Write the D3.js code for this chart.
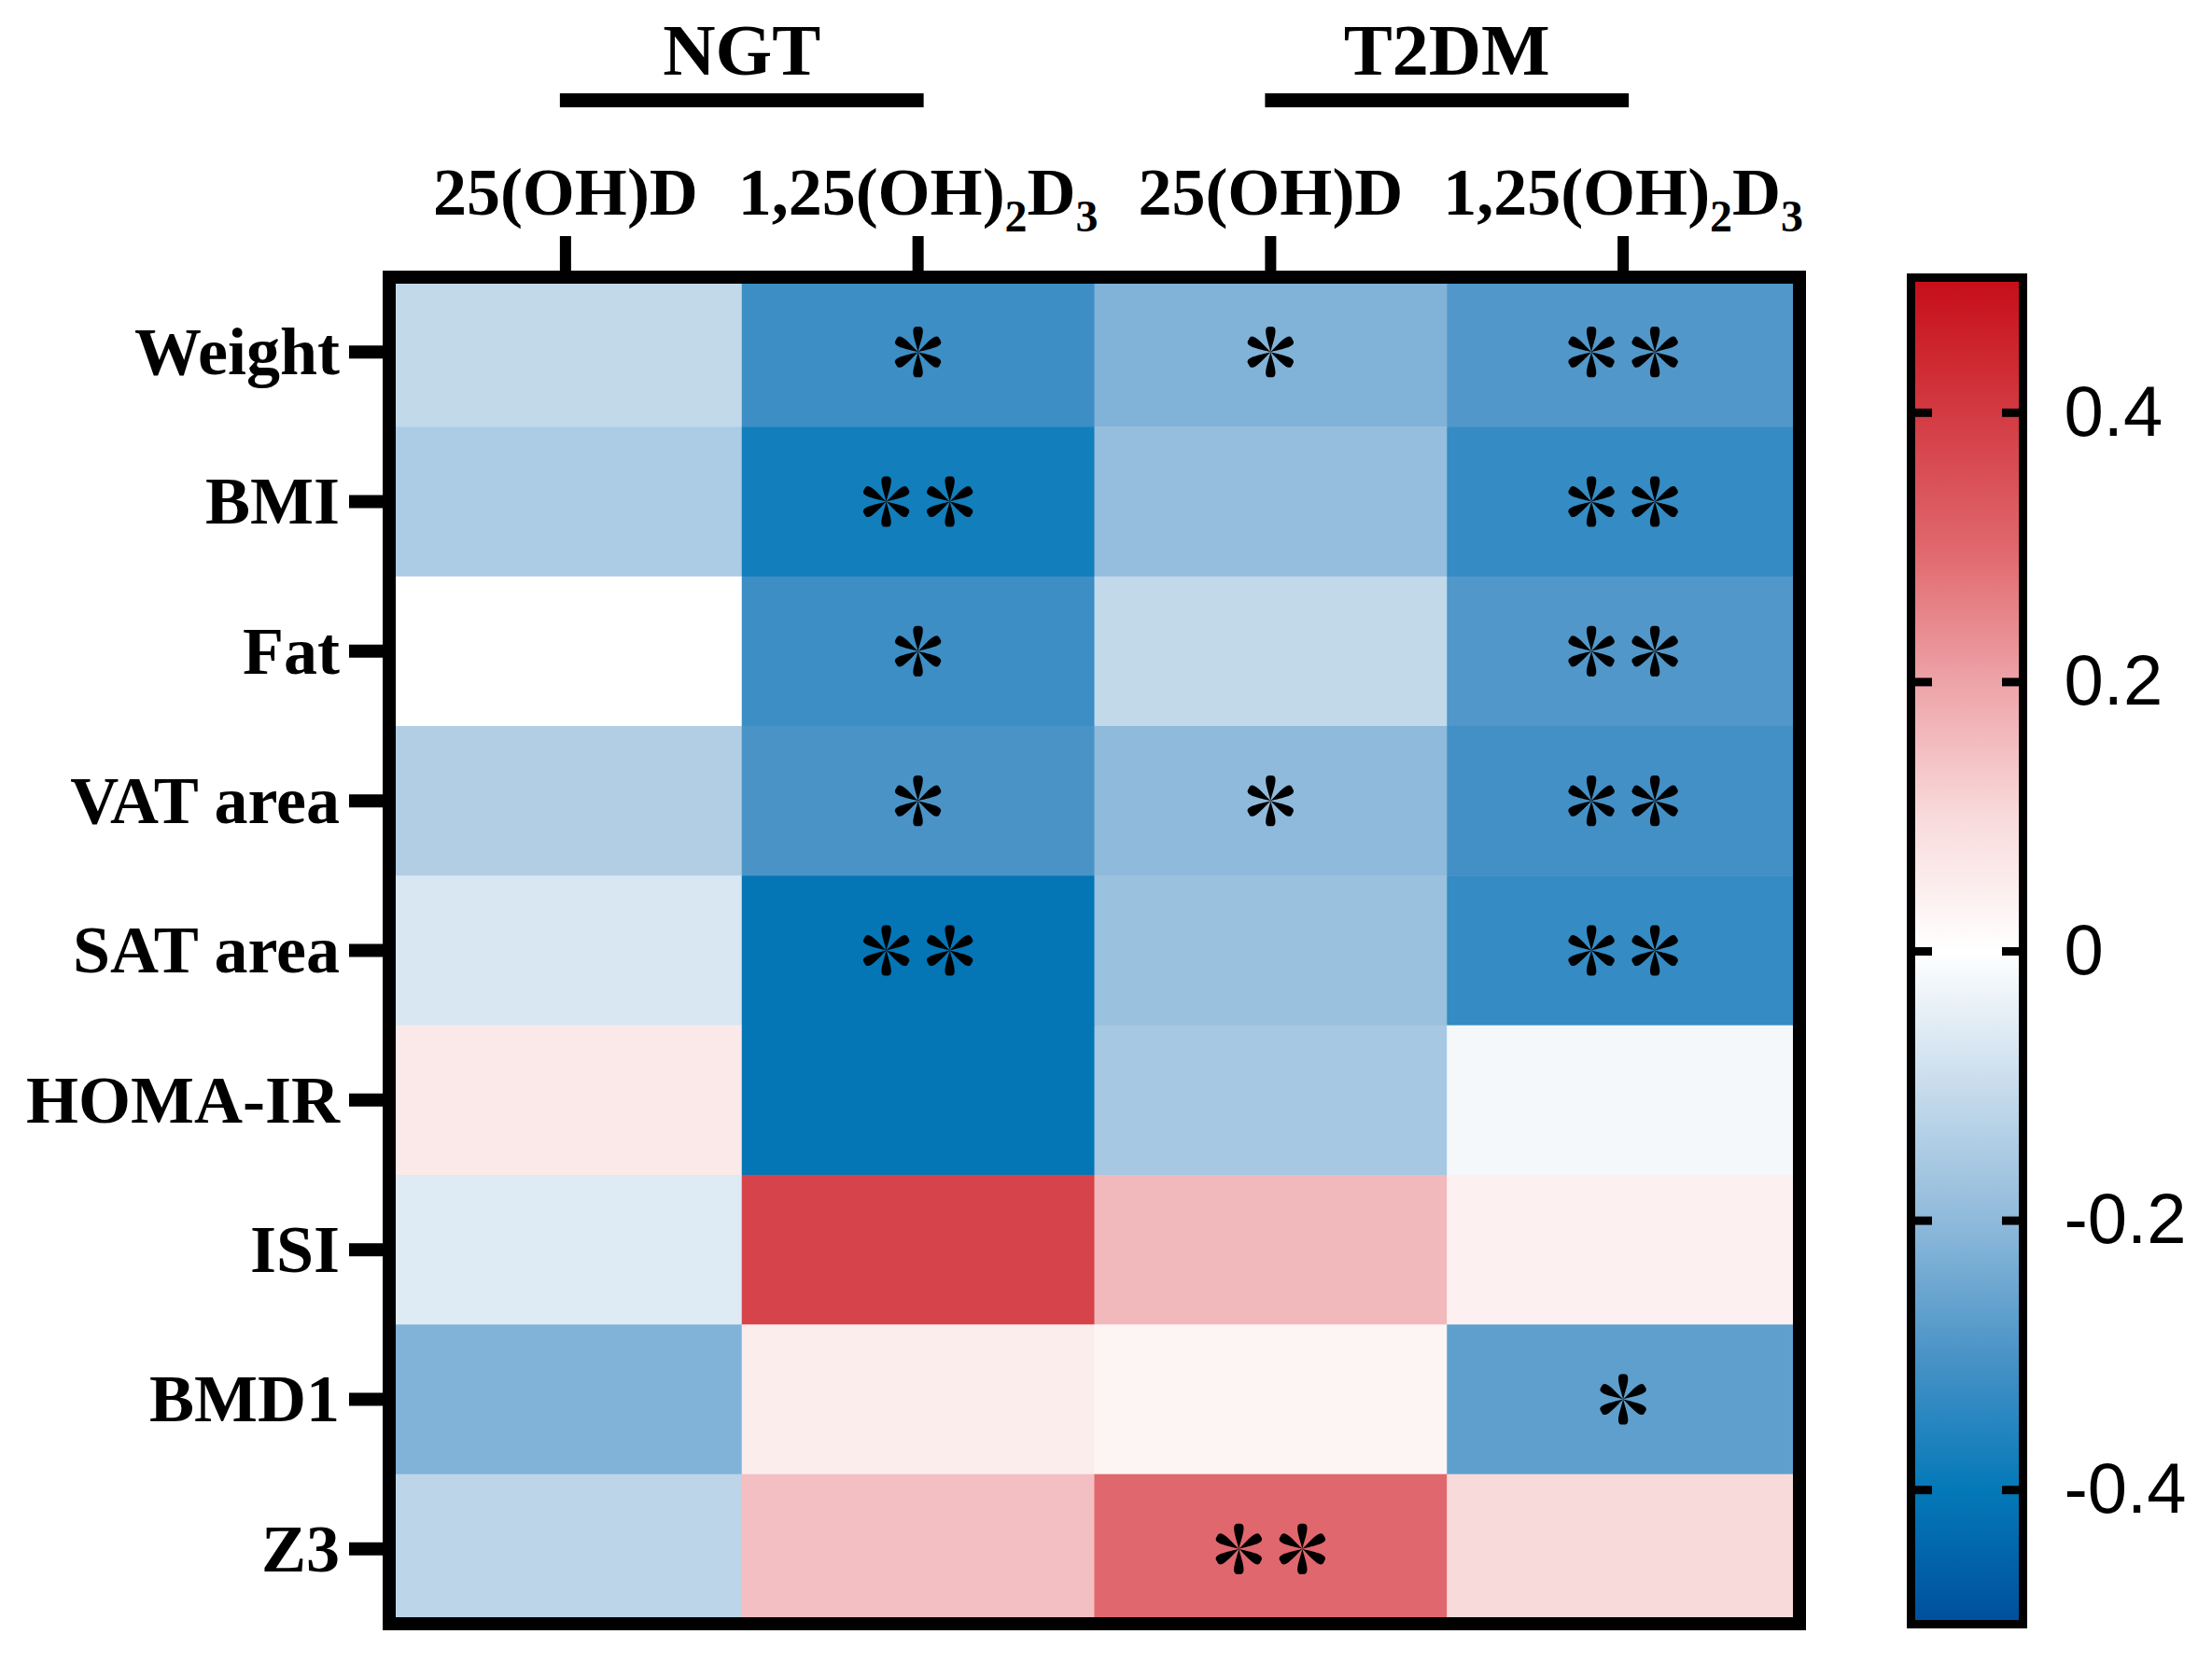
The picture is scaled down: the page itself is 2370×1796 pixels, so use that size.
<!DOCTYPE html>
<html>
<head>
<meta charset="utf-8">
<script src="https://cdn.jsdelivr.net/npm/d3@7"></script>
<style>
  body { margin: 0; background: #fff; }
  .serif { font-family: "Liberation Serif", "Times New Roman", serif; font-weight: bold; }
  .sans { font-family: "Liberation Sans", Arial, sans-serif; }
</style>
</head>
<body>
<svg width="2370" height="1796"></svg>
<script>
// rows / columns of the heatmap
var rows = ["Weight", "BMI", "Fat", "VAT area", "SAT area", "HOMA-IR", "ISI", "BMD1", "Z3"];
var columns = ["NGT 25(OH)D", "NGT 1,25(OH)2D3", "T2DM 25(OH)D", "T2DM 1,25(OH)2D3"];
var groups = ["NGT", "T2DM"];
var groupCols = [[0, 1], [2, 3]];

// correlation coefficient per row (4 columns each)
var weight  = [-0.11, -0.32, -0.22, -0.29];
var bmi     = [-0.15, -0.38, -0.19, -0.33];
var fat     = [ 0.00, -0.32, -0.11, -0.29];
var vatArea = [-0.14, -0.30, -0.20, -0.31];
var satArea = [-0.07, -0.41, -0.18, -0.33];
var homaIr  = [ 0.06, -0.41, -0.16, -0.02];
var isi     = [-0.06,  0.38,  0.16,  0.04];
var bmd1    = [-0.22,  0.05,  0.03, -0.27];
var z3      = [-0.12,  0.15,  0.30,  0.10];
var values = [weight, bmi, fat, vatArea, satArea, homaIr, isi, bmd1, z3];

// significance stars
var stars = [
  ["", "*", "*", "**"],
  ["", "**", "", "**"],
  ["", "*", "", "**"],
  ["", "*", "*", "**"],
  ["", "**", "", "**"],
  ["", "", "", ""],
  ["", "", "", ""],
  ["", "", "", "*"],
  ["", "", "**", ""]
];

// colour bar
var colorStops = [-0.5, -0.4, -0.3, -0.2, -0.1, 0, 0.1, 0.2, 0.3, 0.4, 0.5];
var stopColors = ["#004f9c", "#0479b8", "#4a93c7", "#8fbadb", "#c8dcec", "#ffffff",
                  "#f9dadb", "#eda3a8", "#e0676d", "#d33a42", "#c60d18"];
var cbTicks = [-0.4, -0.2, 0, 0.2, 0.4];

var svg = d3.select("svg");

var color = d3.scaleLinear().domain(colorStops).range(stopColors).interpolate(d3.interpolateRgb);

var x = d3.scaleBand().domain(columns).range([417, 1928]);
var y = d3.scaleBand().domain(rows).range([297, 1740]);

// cells
var cells = [];
values.forEach(function(r, i) {
  r.forEach(function(v, j) {
    cells.push({row: rows[i], col: columns[j], v: v, s: stars[i][j]});
  });
});

svg.append("g").selectAll("rect")
  .data(cells)
  .enter().append("rect")
  .attr("x", function(d) { return x(d.col); })
  .attr("y", function(d) { return y(d.row); })
  .attr("width", x.bandwidth() + 0.5)
  .attr("height", y.bandwidth() + 0.5)
  .attr("fill", function(d) { return color(d.v); });

// asterisk drawn as 6 teardrop petals
var asterisk = {
  draw: function(ctx, size) {
    var R = 27, w = 10;
    for (var k = 0; k < 6; k++) {
      var a = Math.PI / 2 + k * Math.PI / 3;
      var c = Math.cos(a), s = -Math.sin(a);
      var px = -s, py = c;
      function pt(along, side) { return [c * along + px * side, s * along + py * side]; }
      var p1 = pt(R * 0.45, w * 0.3), p2 = pt(R * 1.06, w), p3 = pt(R * 1.06, -w), p4 = pt(R * 0.45, -w * 0.3), tip = pt(R, 0);
      ctx.moveTo(0, 0);
      ctx.bezierCurveTo(p1[0], p1[1], p2[0], p2[1], tip[0], tip[1]);
      ctx.bezierCurveTo(p3[0], p3[1], p4[0], p4[1], 0, 0);
      ctx.closePath();
    }
  }
};

var starG = svg.append("g");
cells.filter(function(d) { return d.s !== ""; }).forEach(function(d) {
  var n = d.s.length;
  var cx = x(d.col) + x.bandwidth() / 2;
  var cy = y(d.row) + y.bandwidth() / 2;
  for (var k = 0; k < n; k++) {
    var off = (k - (n - 1) / 2) * 68;
    starG.append("path")
      .attr("d", d3.symbol().type(asterisk)())
      .attr("transform", "translate(" + (cx + off) + "," + cy + ")")
      .attr("fill", "#000");
  }
});

// frame
svg.append("rect")
  .attr("x", 417).attr("y", 297)
  .attr("width", 1928 - 417).attr("height", 1740 - 297)
  .attr("fill", "none").attr("stroke", "#000").attr("stroke-width", 14);

// row axis
var yAxis = svg.append("g")
  .attr("class", "serif")
  .attr("transform", "translate(417,0)")
  .call(d3.axisLeft(y).tickSize(43).tickPadding(10));
yAxis.select(".domain").remove();
yAxis.selectAll("line").attr("stroke", "#000").attr("stroke-width", 14);
yAxis.selectAll("text").attr("font-size", 72).attr("fill", "#000").attr("dy", "0.33em")
  .attr("font-family", null).attr("font-weight", "bold");

// column axis with subscripts
var xAxis = svg.append("g")
  .attr("class", "serif")
  .attr("transform", "translate(0,297)")
  .call(d3.axisTop(x).tickSize(44).tickPadding(23));
xAxis.select(".domain").remove();
xAxis.selectAll("line").attr("stroke", "#000").attr("stroke-width", 12);
xAxis.selectAll("text").attr("font-family", null).attr("font-size", 72).attr("fill", "#000")
  .each(function(d) {
    var t = d3.select(this);
    var name = d.split(" ")[1];
    t.text(null);
    if (name === "25(OH)D") {
      t.append("tspan").text("25(OH)D");
    } else {
      t.append("tspan").text("1,25(OH)");
      t.append("tspan").attr("font-size", 48).attr("dy", 18).text("2");
      t.append("tspan").attr("dy", -18).text("D");
      t.append("tspan").attr("font-size", 48).attr("dy", 18).text("3");
    }
  });

// group bars and labels
groups.forEach(function(g, i) {
  var x0 = x(columns[groupCols[i][0]]) + x.bandwidth() / 2 - 6;
  var x1 = x(columns[groupCols[i][1]]) + x.bandwidth() / 2 + 6;
  svg.append("line")
    .attr("x1", x0).attr("x2", x1).attr("y1", 107.5).attr("y2", 107.5)
    .attr("stroke", "#000").attr("stroke-width", 15);
  svg.append("text")
    .attr("class", "serif")
    .attr("x", (x0 + x1) / 2).attr("y", 80)
    .attr("text-anchor", "middle")
    .attr("font-size", 78)
    .text(g);
});

// colour bar
var cb = d3.scaleLinear().domain([-0.5, 0.5]).range([1740.5, 297.5]);
var grad = svg.append("defs").append("linearGradient")
  .attr("id", "cbGrad").attr("x1", 0).attr("x2", 0).attr("y1", 1).attr("y2", 0);
grad.selectAll("stop")
  .data(colorStops)
  .enter().append("stop")
  .attr("offset", function(d) { return (d + 0.5); })
  .attr("stop-color", function(d) { return color(d); });

svg.append("rect")
  .attr("x", 2047.5).attr("y", cb(0.5))
  .attr("width", 120).attr("height", cb(-0.5) - cb(0.5))
  .attr("fill", "url(#cbGrad)")
  .attr("stroke", "#000").attr("stroke-width", 9);

var cbLeft = svg.append("g").attr("transform", "translate(2052,0)")
  .call(d3.axisRight(cb).tickValues(cbTicks).tickSize(18).tickFormat(""));
cbLeft.select(".domain").remove();
cbLeft.selectAll("line").attr("stroke", "#000").attr("stroke-width", 9);

var cbRight = svg.append("g").attr("transform", "translate(2163,0)")
  .call(d3.axisLeft(cb).tickValues(cbTicks).tickSize(18).tickFormat(""));
cbRight.select(".domain").remove();
cbRight.selectAll("line").attr("stroke", "#000").attr("stroke-width", 9);

var cbLabels = svg.append("g").attr("transform", "translate(2167.5,0)")
  .call(d3.axisRight(cb).tickValues(cbTicks).tickSize(0).tickPadding(44)
    .tickFormat(function(d) { return String(d); }));
cbLabels.select(".domain").remove();
cbLabels.selectAll("text")
  .attr("font-family", "'Liberation Sans', Arial, sans-serif")
  .attr("font-size", 76).attr("fill", "#000");
</script>
</body>
</html>
